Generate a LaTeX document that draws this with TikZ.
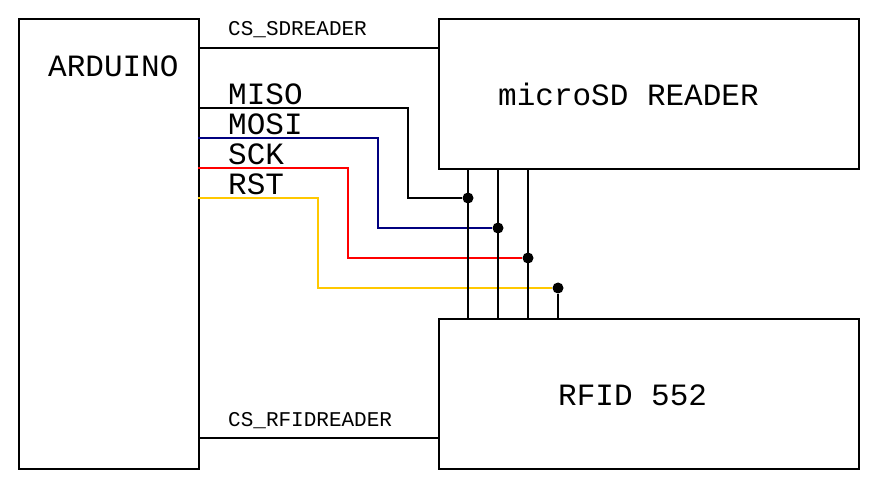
\documentclass[tikz,border=0pt]{standalone}
\usepackage{fontspec}
\setmainfont{Liberation Mono}
\usetikzlibrary{positioning}
\tikzset{box/.style={draw,line width=2pt,inner sep=0pt,anchor=north west},
	wire/.style={line width=2pt},
	lbl/.style={inner sep=0pt,anchor=base west,font=\fontsize{31}{31}\selectfont},
	slbl/.style={inner sep=0pt,anchor=base west,font=\fontsize{21}{21}\selectfont},
	dot/.style={circle,fill,inner sep=0pt,minimum size=11pt}}
\definecolor{mosi}{RGB}{0,0,128}
\definecolor{rst}{RGB}{255,200,0}
\begin{document}
\begin{tikzpicture}[x=1pt,y=-1pt]
\useasboundingbox (0,0) rectangle (876,486);
\node[box,minimum width=180pt,minimum height=450pt](ard) at (18,18){};
\node[box,minimum width=420pt,minimum height=150pt](sd) at (438,18){};
\node[box,minimum width=420pt,minimum height=150pt](rfid) at (438,318){};
\node[lbl] (tard) at (48,77){ARDUINO};
\node[lbl] (tsd) at (498,106){microSD READER};
\node[lbl] (trf) at (558,406){RFID 552};
\node[slbl] (tcs1) at (228,36){CS\_SDREADER};
\node[slbl] (tcs2) at (228,426){CS\_RFIDREADER};
\node[lbl] (tmiso) at (228,105){MISO};
\node[lbl] (tmosi) at (228,135){MOSI};
\node[lbl] (tsck) at (228,165){SCK};
\node[lbl] (trst) at (228,195){RST};
% junctions
\node[dot] (jmiso) at (468,198){};
\node[dot] (jmosi) at (498,228){};
\node[dot] (jsck) at (528,258){};
\node[dot] (jrst) at (558,288){};
\draw[wire] (198,48) -- (sd.west |- 0,48);
\draw[wire] (198,438) -- (rfid.west |- 0,438);
\draw[wire] (198,108) -| (408,198) -- (jmiso);
\draw[wire,mosi] (198,138) -| (378,228) -- (jmosi);
\draw[wire,red] (198,168) -| (348,258) -- (jsck);
\draw[wire,rst] (198,198) -| (318,288) -- (jrst);
\foreach \j in {jmiso,jmosi,jsck}
	\draw[wire] (\j |- sd.south) -- (\j |- rfid.north);
\draw[wire] (jrst) -- (jrst |- rfid.north);
\end{tikzpicture}
\end{document}
